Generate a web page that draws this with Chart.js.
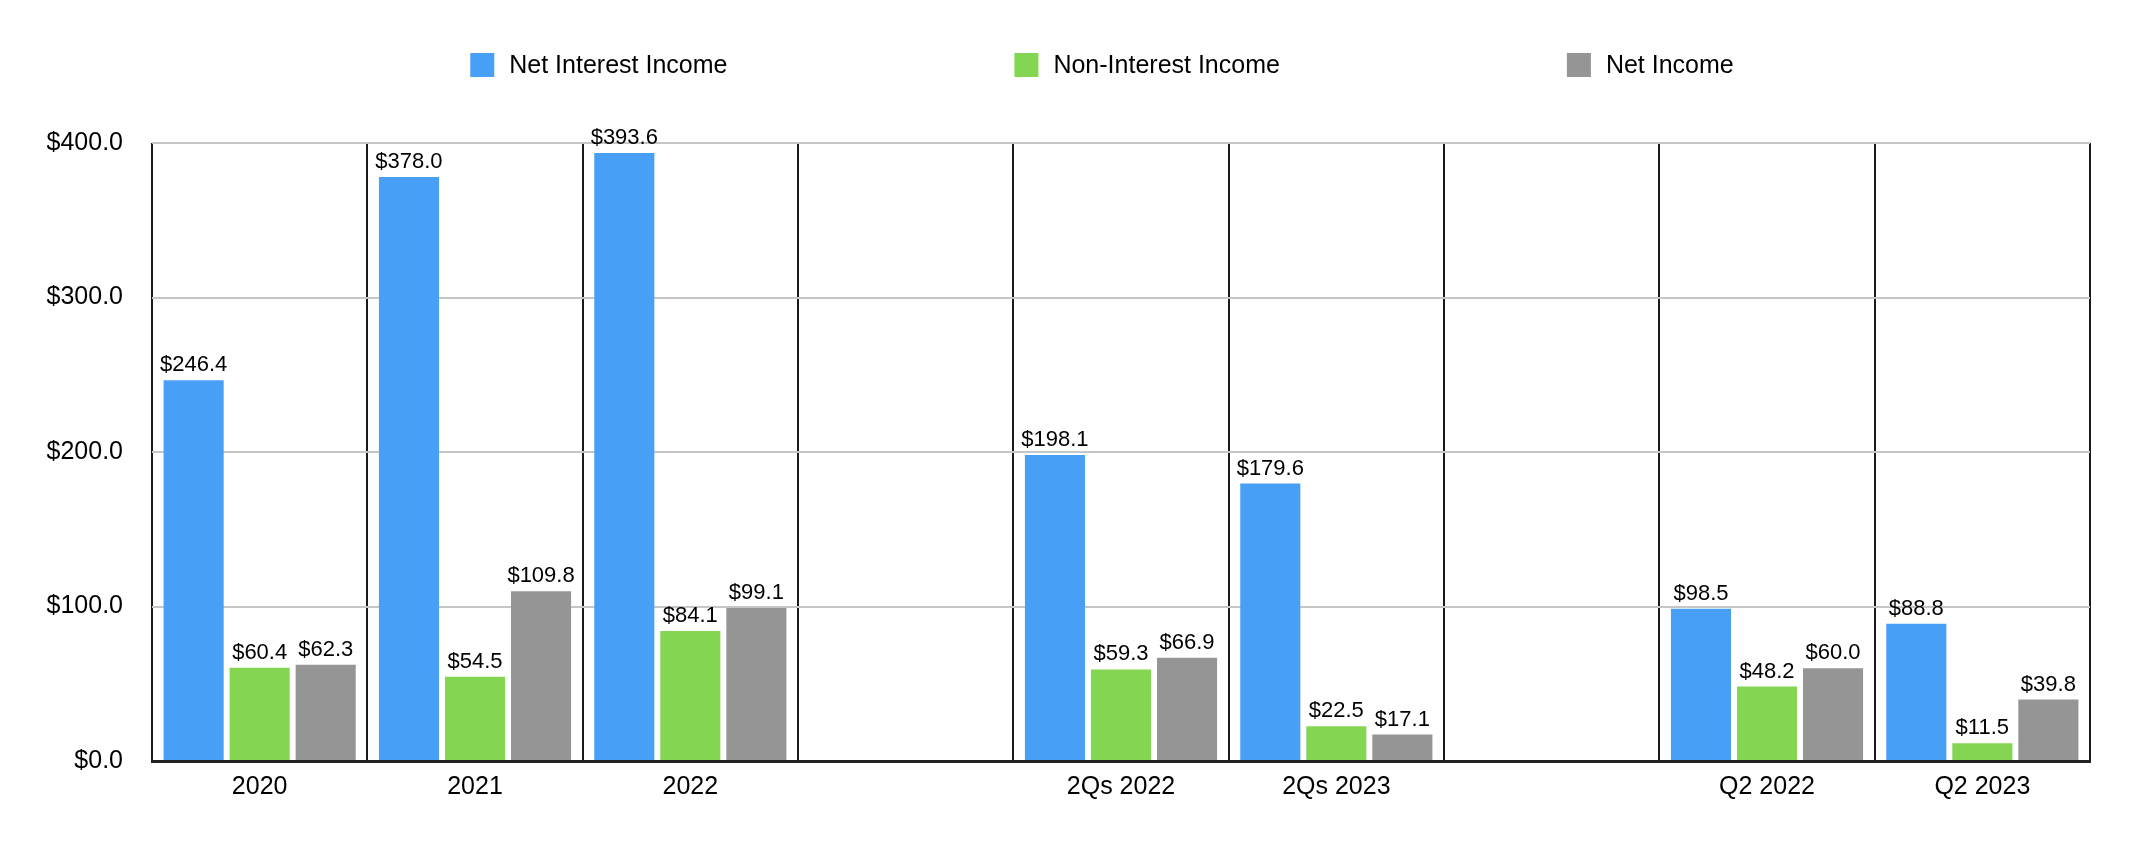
<!DOCTYPE html>
<html>
<head>
<meta charset="utf-8">
<script src="https://cdn.jsdelivr.net/npm/chart.js@4.4.0/dist/chart.umd.min.js"></script>
<style>
  html, body { margin: 0; padding: 0; background: #fff; }
  #wrap { width: 2156px; height: 862px; }
</style>
</head>
<body>
<div id="wrap"><canvas id="barplot" width="2156" height="862"></canvas></div>
<script>
var categories = ['2020', '2021', '2022', '', '2Qs 2022', '2Qs 2023', '', 'Q2 2022', 'Q2 2023'];
var netInterestIncome = [246.4, 378.0, 393.6, null, 198.1, 179.6, null, 98.5, 88.8];
var nonInterestIncome = [60.4, 54.5, 84.1, null, 59.3, 22.5, null, 48.2, 11.5];
var netIncome = [62.3, 109.8, 99.1, null, 66.9, 17.1, null, 60.0, 39.8];
var seriesNames = ['Net Interest Income', 'Non-Interest Income', 'Net Income'];
var seriesColors = ['#489ff6', '#84d652', '#959595'];

var fontFamily = "'Liberation Sans', Arial, Helvetica, sans-serif";

function money(v) {
  return '$' + Number(v).toFixed(1);
}

// value labels above every bar
var barLabels = {
  id: 'barLabels',
  afterDatasetsDraw: function(chart) {
    var ctx = chart.ctx;
    ctx.save();
    ctx.font = '22px ' + fontFamily;
    ctx.fillStyle = '#000';
    ctx.textAlign = 'center';
    ctx.textBaseline = 'alphabetic';
    chart.data.datasets.forEach(function(ds, i) {
      var meta = chart.getDatasetMeta(i);
      meta.data.forEach(function(bar, j) {
        var v = ds.data[j];
        if (v === null || v === undefined) return;
        ctx.fillText(money(v), bar.x, bar.y - 9);
      });
    });
    ctx.restore();
  }
};

// legend spread wide across the top
var wideLegend = {
  id: 'wideLegend',
  afterDraw: function(chart) {
    var ctx = chart.ctx;
    var box = 24, gap = 15, itemGap = 287, y = 65;
    ctx.save();
    ctx.font = '25px ' + fontFamily;
    var items = chart.data.datasets.map(function(ds) {
      return { text: ds.label, color: ds.backgroundColor, w: ctx.measureText(ds.label).width };
    });
    var total = 0;
    items.forEach(function(it, i) { total += box + gap + it.w + (i ? itemGap : 0); });
    var x = chart.width / 2 - total / 2 + 24;
    ctx.textBaseline = 'middle';
    ctx.textAlign = 'left';
    items.forEach(function(it) {
      ctx.fillStyle = it.color;
      ctx.fillRect(x, y - box / 2, box, box);
      ctx.fillStyle = '#000';
      ctx.fillText(it.text, x + box + gap, y + 1);
      x += box + gap + it.w + itemGap;
    });
    ctx.restore();
  }
};

new Chart('barplot', {
  type: 'bar',
  data: {
    labels: categories,
    datasets: [
      { label: seriesNames[0], data: netInterestIncome, backgroundColor: seriesColors[0] },
      { label: seriesNames[1], data: nonInterestIncome, backgroundColor: seriesColors[1] },
      { label: seriesNames[2], data: netIncome, backgroundColor: seriesColors[2] }
    ]
  },
  options: {
    responsive: false,
    animation: false,
    devicePixelRatio: 1,
    categoryPercentage: 0.92,
    barPercentage: 0.91,
    layout: { padding: { left: 0, right: 66, top: 143, bottom: 0 } },
    plugins: {
      legend: { display: false },
      title: { display: false },
      tooltip: { enabled: false }
    },
    scales: {
      x: {
        afterFit: function(scale) { scale.height = 101; },
        grid: { color: '#1a1a1a', lineWidth: 2, drawTicks: false, offset: true },
        border: { color: '#222', width: 3 },
        ticks: {
          color: '#000', padding: 11, autoSkip: false, maxRotation: 0,
          font: { family: fontFamily, size: 25 }
        }
      },
      y: {
        min: 0,
        max: 400,
        afterFit: function(scale) { scale.width = 152; },
        grid: { color: '#c6c6c6', lineWidth: 2, drawTicks: false },
        border: { display: false },
        ticks: {
          stepSize: 100, color: '#000', padding: 29,
          font: { family: fontFamily, size: 25 },
          callback: function(v) { return money(v); }
        }
      }
    }
  },
  plugins: [barLabels, wideLegend]
});
</script>
</body>
</html>
